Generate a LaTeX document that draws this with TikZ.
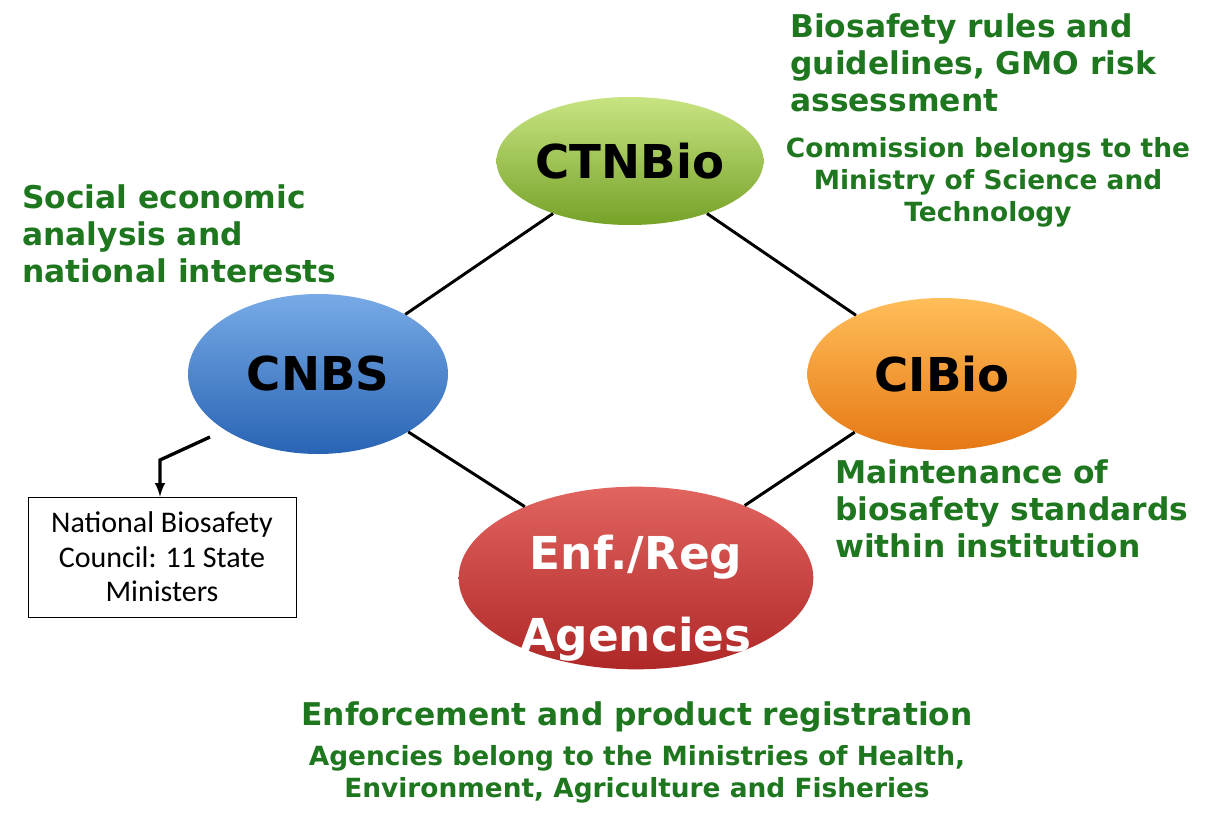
\documentclass[tikz,border=0pt]{standalone}
\usepackage{fontspec}
\setmainfont{DejaVu Sans}
\newfontfamily\boxfont{Carlito}
\usetikzlibrary{shapes.geometric}
\definecolor{txtgreen}{RGB}{30,118,30}
\tikzset{
  org/.style={ellipse,draw=none,font=\bfseries\fontsize{35}{40}\selectfont,inner sep=0pt},
  note/.style={text=txtgreen,font=\bfseries\fontsize{23.5}{28}\selectfont,inner sep=0pt},
  small note/.style={note,font=\bfseries\fontsize{19.8}{24}\selectfont},
  link/.style={line width=2.2pt}
}
\begin{document}
\begin{tikzpicture}[x=0.75pt,y=0.75pt,yscale=-1,xscale=1]
    \useasboundingbox (0,0) rectangle (1224,817);
    % Nodes
    \node [org,minimum width=189pt,minimum height=96pt,top color={rgb,255:red,200;green,228;blue,130},bottom color={rgb,255:red,118;green,162;blue,40}] (ctn) at (630,161) {CTNBio};
    \node [org,minimum width=195pt,minimum height=120pt,top color={rgb,255:red,120;green,170;blue,230},bottom color={rgb,255:red,40;green,100;blue,180}] (cnbs) at (318,374) {CNBS};
    \node [org,minimum width=202pt,minimum height=114pt,top color={rgb,255:red,255;green,190;blue,90},bottom color={rgb,255:red,230;green,120;blue,20}] (cib) at (942,374) {CIBio};
    \node [org,minimum width=266pt,minimum height=137pt,top color={rgb,255:red,225;green,100;blue,95},bottom color={rgb,255:red,175;green,40;blue,40}] (enf) at (636,578) {};
    \node [text=white,align=center,font=\bfseries\fontsize{34}{62}\selectfont,inner sep=0pt] (enflabel) at (636,598) {Enf./Reg\\Agencies};
    % Box
    \node [draw,minimum width=201pt,minimum height=90pt,align=center,font=\boxfont\fontsize{22.5}{26}\selectfont,inner sep=0pt] (nbc) at (162,557) {National Biosafety\\Council: 11 State\\Ministers};
    \coordinate (cnbsout) at (210,437);
    % Links
    \draw [link] (cnbs) -- (ctn);
    \draw [link] (ctn) -- (cib);
    \draw [link] (cnbs) -- (enf);
    \draw [link] (cib) -- (enf);
    \draw [line width=2.5pt,-latex] (cnbsout) -- (160,460) -- (nbc.north -| 160,460);
    % Text Nodes
    \node [note,anchor=north west,align=left] (t1) at (790,13) {Biosafety rules and\\guidelines, GMO risk\\assessment};
    \node [small note,anchor=north,align=center] (t2) at (988,137) {Commission belongs to the\\Ministry of Science and\\Technology};
    \node [note,anchor=north west,align=left] (t3) at (22,184) {Social economic\\analysis and\\national interests};
    \node [note,anchor=north west,align=left] (t4) at (835,459) {Maintenance of\\biosafety standards\\within institution};
    \node [note,anchor=north] (t5) at (637,701) {Enforcement and product registration};
    \node [small note,anchor=north,align=center] (t6) at (637,745) {Agencies belong to the Ministries of Health,\\Environment, Agriculture and Fisheries};
\end{tikzpicture}
\end{document}
